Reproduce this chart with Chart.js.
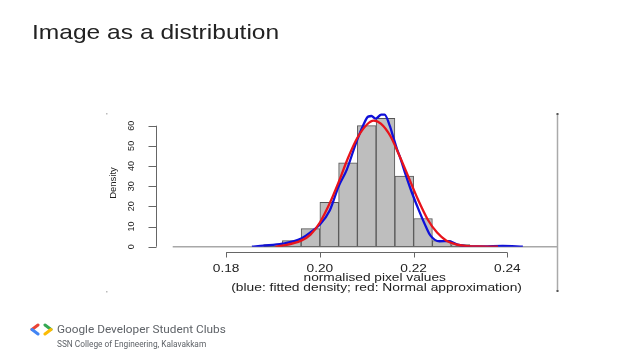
<!DOCTYPE html>
<html>
<head>
<meta charset="utf-8">
<script src="https://cdn.jsdelivr.net/npm/chart.js@4.4.1/dist/chart.umd.min.js"></script>
<style>
  html, body { margin: 0; padding: 0; background: #fff; }
  #wrap { position: relative; width: 638px; height: 359px; overflow: hidden; }
  #chart { position: absolute; left: 0; top: 0; }
  .title { position: absolute; left: 32px; top: 19.5px; font: 21px "Liberation Sans", Arial, sans-serif; color: #222; transform: scaleX(1.17); transform-origin: 0 0; white-space: nowrap; }
  .logo { position: absolute; left: 29px; top: 323px; }
  .brand { position: absolute; left: 57px; top: 321.5px; font: 11.8px Roboto, "Liberation Sans", sans-serif; color: #5f6368; white-space: nowrap; }
  .sub { position: absolute; left: 57px; top: 338.5px; font: 8.3px Roboto, "Liberation Sans", sans-serif; color: #5f6368; white-space: nowrap; }
</style>
</head>
<body>
<div id="wrap">
  <canvas id="chart" width="638" height="359"></canvas>
  <div class="title">Image as a distribution</div>
  <svg class="logo" width="26" height="13" viewBox="0 0 26 13">
    <path d="M9 2 L3 6.5" stroke="#ea4335" stroke-width="3" stroke-linecap="round"/>
    <path d="M3 6.5 L9 11" stroke="#4285f4" stroke-width="3" stroke-linecap="round"/>
    <path d="M16 2 L22 6.5" stroke="#34a853" stroke-width="3" stroke-linecap="round"/>
    <path d="M22 6.5 L16 11" stroke="#fbbc04" stroke-width="3" stroke-linecap="round"/>
  </svg>
  <div class="brand">Google Developer Student Clubs</div>
  <div class="sub">SSN College of Engineering, Kalavakkam</div>
</div>
<script>
// histogram bins (centres, width 0.004) and densities
const binCentres = [0.190, 0.194, 0.198, 0.202, 0.206, 0.210, 0.214, 0.218, 0.222, 0.226, 0.230];
const binDensity = [1, 3, 9, 22, 41.6, 60, 63.6, 35, 14, 3, 1];

// blue: fitted kernel density
const blueX = [0.1855, 0.188, 0.192, 0.196, 0.1979, 0.200, 0.2021, 0.204, 0.2057, 0.2078, 0.2092, 0.2103, 0.2110, 0.2119, 0.2131, 0.2138, 0.2149, 0.2157, 0.2165, 0.2170, 0.2184, 0.2196, 0.2213, 0.2227, 0.2236, 0.2255, 0.2275, 0.2294, 0.2312, 0.2348, 0.2390, 0.2433];
const blueY = [0, 0.5, 1.5, 4, 7, 11, 18, 30, 38, 52, 60, 64.5, 64.8, 63.5, 65.5, 65.5, 60, 54, 48, 45, 35, 27, 17, 9.5, 5.5, 2.7, 2.8, 1, 0.3, 0.1, 0.4, 0];

// red: normal approximation
const redX = [0.1905, 0.192, 0.196, 0.198, 0.200, 0.202, 0.204, 0.206, 0.208, 0.210, 0.2115, 0.213, 0.215, 0.217, 0.219, 0.221, 0.223, 0.225, 0.227, 0.229, 0.231, 0.234, 0.238];
const redY = [0, 0.5, 3, 6, 12, 21, 32, 44, 54, 60.5, 62.5, 61, 55, 45, 34, 23, 13.5, 7, 3, 1.2, 0.4, 0.1, 0];

const xTicks = [0.18, 0.20, 0.22, 0.24];
const yTicks = [0, 10, 20, 30, 40, 50, 60];

const pts = (xs, ys) => xs.map((x, i) => ({ x: x, y: ys[i] }));

function stretchText(ctx, text, x, y, sx) {
  ctx.save();
  ctx.translate(x, y);
  ctx.scale(sx, 1);
  ctx.fillText(text, 0, 0);
  ctx.restore();
}

// R-style axes drawn from the chart's own scales
const rAxes = {
  id: "rAxes",
  beforeDatasetsDraw(chart) {
    const { ctx, scales: { x, y }, chartArea } = chart;
    ctx.save();
    ctx.strokeStyle = "#a8a8a8";
    ctx.lineWidth = 1.5;
    ctx.beginPath();
    ctx.moveTo(chartArea.left, y.getPixelForValue(0));
    ctx.lineTo(chartArea.right, y.getPixelForValue(0));
    ctx.stroke();
    ctx.restore();
  },
  afterDraw(chart) {
    const { ctx, scales: { x, y } } = chart;
    ctx.save();
    ctx.strokeStyle = "#666";
    ctx.lineWidth = 1;
    ctx.fillStyle = "#222";

    // x axis
    const ay = 252.5;
    ctx.beginPath();
    ctx.moveTo(x.getPixelForValue(xTicks[0]), ay);
    ctx.lineTo(x.getPixelForValue(xTicks[xTicks.length - 1]), ay);
    xTicks.forEach(t => {
      const px = Math.round(x.getPixelForValue(t)) + 0.5;
      ctx.moveTo(px, ay);
      ctx.lineTo(px, ay + 5);
    });
    ctx.stroke();
    ctx.font = "10px 'Liberation Sans', Arial, sans-serif";
    ctx.textAlign = "center";
    ctx.textBaseline = "middle";
    xTicks.forEach(t => stretchText(ctx, t.toFixed(2), x.getPixelForValue(t), 269, 1.37));
    stretchText(ctx, "normalised pixel values", x.getPixelForValue(0.2117), 278.5, 1.37);
    stretchText(ctx, "(blue: fitted density; red: Normal approximation)", x.getPixelForValue(0.2121), 288.5, 1.38);

    // y axis
    const ax = 156.5;
    ctx.beginPath();
    ctx.moveTo(ax, y.getPixelForValue(0));
    ctx.lineTo(ax, y.getPixelForValue(60));
    yTicks.forEach(t => {
      const py = Math.round(y.getPixelForValue(t)) + 0.5;
      ctx.moveTo(ax, py);
      ctx.lineTo(ax - 8, py);
    });
    ctx.stroke();
    ctx.font = "9px 'Liberation Sans', Arial, sans-serif";
    yTicks.forEach(t => {
      ctx.save();
      ctx.translate(132, y.getPixelForValue(t));
      ctx.rotate(-Math.PI / 2);
      ctx.fillText(String(t), 0, 0);
      ctx.restore();
    });
    ctx.save();
    ctx.translate(113, 183);
    ctx.rotate(-Math.PI / 2);
    ctx.font = "9.5px 'Liberation Sans', Arial, sans-serif";
    ctx.fillText("Density", 0, 0);
    ctx.restore();

    // right frame edge and corner marks
    ctx.strokeStyle = "#aaa";
    ctx.lineWidth = 1.5;
    ctx.beginPath();
    ctx.moveTo(557.5, 114);
    ctx.lineTo(557.5, 291);
    ctx.stroke();
    ctx.fillStyle = "#555";
    ctx.fillRect(556.5, 113, 2, 2);
    ctx.fillRect(556.5, 290, 2, 2);
    ctx.fillStyle = "#bbb";
    ctx.fillRect(106, 113, 1.5, 1.5);
    ctx.fillRect(106, 291, 1.5, 1.5);
    ctx.restore();
  }
};

const ctx = document.getElementById("chart").getContext("2d");
new Chart(ctx, {
  type: "bar",
  data: {
    datasets: [
      {
        type: "line",
        data: pts(redX, redY),
        borderColor: "#e8141c",
        borderWidth: 2.3,
        pointRadius: 0,
        cubicInterpolationMode: "monotone",
        order: 0
      },
      {
        type: "line",
        data: pts(blueX, blueY),
        borderColor: "#1010d8",
        borderWidth: 2.3,
        pointRadius: 0,
        cubicInterpolationMode: "monotone",
        order: 1
      },
      {
        type: "bar",
        data: pts(binCentres, binDensity),
        backgroundColor: "#bebebe",
        borderColor: "#555",
        borderWidth: 1,
        borderSkipped: false,
        barPercentage: 1,
        categoryPercentage: 1,
        order: 2
      }
    ]
  },
  options: {
    responsive: false,
    animation: false,
    events: [],
    layout: { padding: { left: 172.7, right: 80, top: 113, bottom: 112.3 } },
    plugins: { legend: { display: false }, tooltip: { enabled: false } },
    scales: {
      x: { type: "linear", min: 0.1686, max: 0.2508, offset: false, display: false },
      y: { min: 0, max: 66.3, display: false }
    }
  },
  plugins: [rAxes]
});
</script>
</body>
</html>
